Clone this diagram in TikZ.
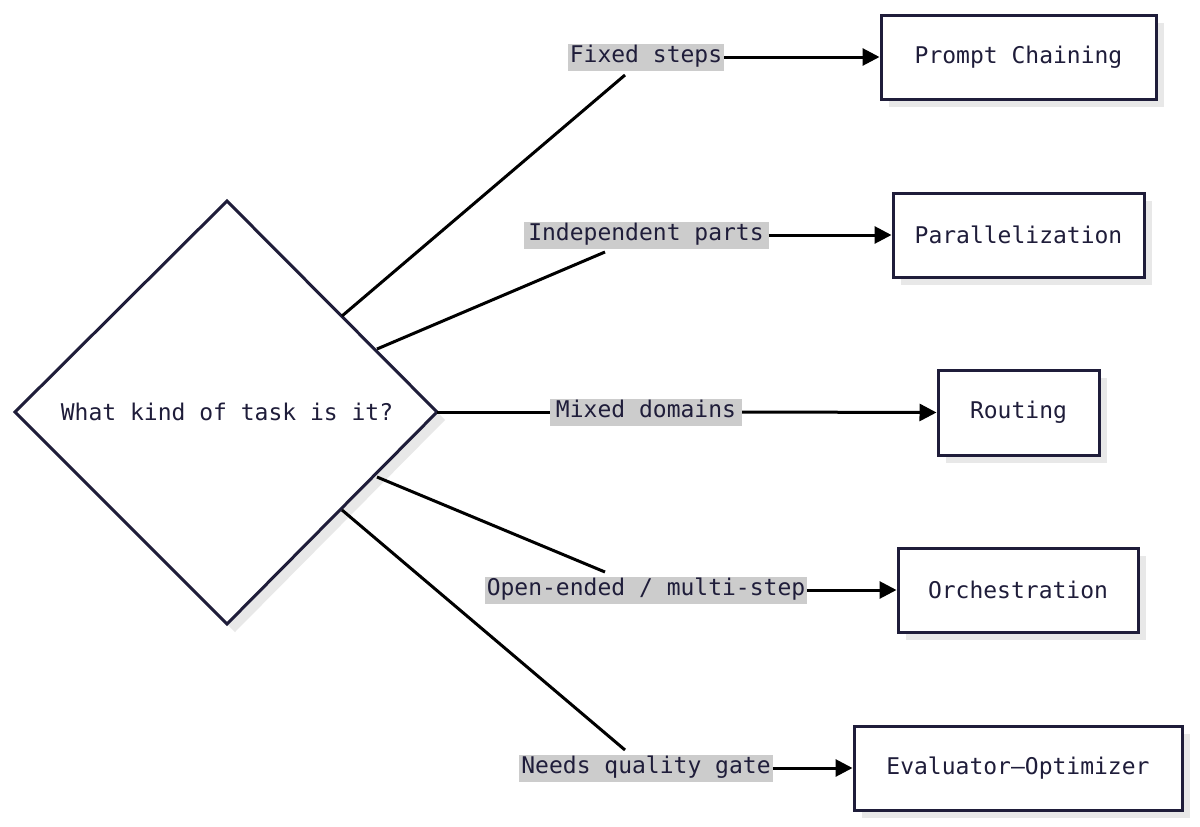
\documentclass[tikz,border=0pt]{standalone}
\usepackage{fontspec}
\setmainfont{DejaVu Sans Mono}
\usetikzlibrary{arrows.meta}
\definecolor{ink}{HTML}{1F1D3A}
\definecolor{lbl}{HTML}{CCCCCC}
\definecolor{shd}{HTML}{E8E8E8}
\begin{document}
\begin{tikzpicture}[x=1pt,y=-1pt,
  txt/.style={font=\fontsize{23}{27}\selectfont,text=ink},
  box/.style={draw=ink,line width=3pt,fill=white,txt},
  lab/.style={fill=lbl,inner sep=2pt,txt,text height=17pt,text depth=6pt},
  conn/.style={line width=3pt,black},
  arr/.style={conn,-{Triangle[length=17pt,width=17pt]}}]
\useasboundingbox (0,0) rectangle (1200,827);
\fill[white] (0,0) rectangle (1200,827);
% shadows
\fill[shd] (23,420) -- (235,209) -- (445,420) -- (235,632) -- cycle;
\foreach \a/\b/\c/\d in {881/15/1156/99,893/193/1144/277,938/370/1099/455,898/548/1138/632,854/726/1182/810}
  \fill[shd] (\a+8,\b+8) rectangle (\c+8,\d+8);
% diamond
\draw[ink,line width=3pt,fill=white] (15,412) coordinate (dl) -- (227,201) -- (437,412) coordinate (dr) -- (227,624) -- cycle;
\node[txt] (q) at (227,412) {What kind of task is it?};
\coordinate (d1) at (342,316);
\coordinate (d2) at (377,349);
\coordinate (d4) at (377,477);
\coordinate (d5) at (342,510);
% boxes
\node[box,minimum width=275pt,minimum height=84pt] (b1) at (1018.5,57) {Prompt Chaining};
\node[box,minimum width=251pt,minimum height=84pt] (b2) at (1018.5,235) {Parallelization};
\node[box,minimum width=161pt,minimum height=85pt] (b3) at (1018.5,412.5) {Routing};
\node[box,minimum width=240pt,minimum height=84pt] (b4) at (1018,590) {Orchestration};
\node[box,minimum width=328pt,minimum height=84pt] (b5) at (1018,768) {Evaluator–Optimizer};
% labels
\node[lab,minimum width=149pt] (l1) at (646,57) {Fixed steps};
\node[lab,minimum width=245pt] (l2) at (646,235) {Independent parts};
\node[lab,minimum width=192pt] (l3) at (646,412) {Mixed domains};
\node[lab,minimum width=322pt] (l4) at (646,590) {Open-ended / multi-step};
\node[lab,minimum width=245pt] (l5) at (646,768) {Needs quality gate};
% connectors
\draw[conn] (d1) -- (625,75);
\draw[conn] (d2) -- (605,252);
\draw[conn] (dr) -- (l3.west);
\draw[conn] (d4) -- (605,572);
\draw[conn] (d5) -- (625,750);
\draw[arr] (l1.east) -- (b1.west);
\draw[arr] (l2.east) -- (b2.west);
\draw[arr] (l3.east) -- (b3.west);
\draw[arr] (l4.east) -- (b4.west);
\draw[arr] (l5.east) -- (b5.west);
\end{tikzpicture}
\end{document}
